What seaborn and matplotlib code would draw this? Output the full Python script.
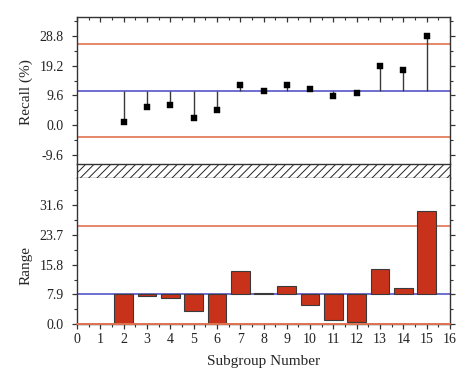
import numpy as np
import pandas as pd
import matplotlib
matplotlib.use("Agg")
import matplotlib.pyplot as plt
import seaborn as sns
from matplotlib.patches import Rectangle
from matplotlib.ticker import MultipleLocator, FixedLocator

# ---- data ----
subgroups = [2, 3, 4, 5, 6, 7, 8, 9, 10, 11, 12, 13, 14, 15]
recall = [1.0, 5.8, 6.5, 2.3, 4.9, 12.9, 11.0, 12.9, 11.6, 9.3, 10.5, 19.2, 17.8, 28.8]
ranges = [0.0, 7.6, 7.05, 3.6, 0.0, 14.2, 8.2, 10.1, 5.2, 1.1, 0.6, 14.6, 9.7, 29.9]
recall_cl, recall_ucl, recall_lcl = 11.0, 26.1, -3.9
range_cl, range_ucl, range_lcl = 7.9, 26.0, 0.0
recall_ticks = [-9.6, 0.0, 9.6, 19.2, 28.8]
range_ticks = [0.0, 7.9, 15.8, 23.7, 31.6]
x_ticks = list(range(0, 17))

sns.set_theme(style="white")
plt.rcParams['font.family'] = ['Liberation Serif', 'DejaVu Serif']
plt.rcParams['hatch.linewidth'] = 0.7

fig = plt.figure(figsize=(4.74, 3.91), dpi=100)
W, H = 474, 391
def frac(x0, y0, x1, y1):
    return [x0 / W, 1 - y1 / H, (x1 - x0) / W, (y1 - y0) / H]

ax1 = fig.add_axes(frac(77, 17, 450, 164))
axb = fig.add_axes(frac(77, 164, 450, 178))
ax2 = fig.add_axes(frac(77, 178, 450, 324.3))

orange = "#E0734F"
blue = "#5555C8"
red = "#C8321A"
spine_c = "#333333"

df1 = pd.DataFrame({"Subgroup": subgroups, "Recall": recall})
df2 = pd.DataFrame({"Subgroup": subgroups, "Range": ranges,
                    "Dev": [r - range_cl for r in ranges]})

# ---- upper panel ----
ax1.axhline(recall_ucl, color=orange, lw=1.2, zorder=1)
ax1.axhline(recall_lcl, color=orange, lw=1.2, zorder=1)
ax1.axhline(recall_cl, color=blue, lw=1.2, zorder=1)
ax1.vlines(df1["Subgroup"], recall_cl, df1["Recall"], color="#3a3a3a", lw=1.0, zorder=2)
sns.scatterplot(data=df1, x="Subgroup", y="Recall", marker="s", s=20,
                color="black", edgecolor="black", linewidth=0.3, ax=ax1, zorder=3)
ax1.set_xlim(0, 16)
ax1.set_ylim(-12.5, 34.9)
ax1.yaxis.set_major_locator(FixedLocator(recall_ticks))
ax1.yaxis.set_minor_locator(FixedLocator([-4.8, 4.8, 14.4, 24.0, 33.6]))
ax1.set_yticklabels([f"{t:.1f}" for t in recall_ticks])
ax1.set_ylabel("Recall (%)", fontsize=11)
ax1.set_xlabel("")
ax1.xaxis.set_major_locator(MultipleLocator(1))
ax1.xaxis.set_minor_locator(MultipleLocator(0.5))
ax1.tick_params(axis="x", which="both", bottom=False, labelbottom=False,
                top=True, direction="in")
ax1.spines["bottom"].set_visible(False)

# ---- band ----
axb.add_patch(Rectangle((0, 0), 1, 1, transform=axb.transAxes, facecolor="white",
                        edgecolor="#222222", hatch="////", lw=0))
axb.set_xticks([]); axb.set_yticks([])
for s in axb.spines.values():
    s.set_color(spine_c); s.set_linewidth(1.0)

# ---- lower panel ----
ax2.axhline(range_ucl, color=orange, lw=1.2, zorder=1)
ax2.axhline(range_cl, color=blue, lw=1.2, zorder=1)
sns.barplot(data=df2, x="Subgroup", y="Dev", native_scale=True, bottom=range_cl,
            width=0.8, color=red, saturation=1, edgecolor="#3a3a3a", linewidth=0.8,
            errorbar=None, ax=ax2, zorder=2)
ax2.axhline(range_lcl, color=orange, lw=1.4, zorder=4, clip_on=False)
ax2.set_xlim(0, 16)
ax2.set_ylim(0, 38.75)
ax2.yaxis.set_major_locator(FixedLocator(range_ticks))
ax2.yaxis.set_minor_locator(FixedLocator([3.95, 11.85, 19.75, 27.65, 35.55]))
ax2.set_yticklabels([f"{t:.1f}" for t in range_ticks])
ax2.xaxis.set_major_locator(FixedLocator(x_ticks))
ax2.xaxis.set_minor_locator(MultipleLocator(0.5))
ax2.set_xticklabels([str(t) for t in x_ticks])
ax2.set_ylabel("Range", fontsize=11)
ax2.set_xlabel("Subgroup Number", fontsize=11, labelpad=6)
ax2.spines["top"].set_visible(False)
ax2.tick_params(axis="x", which="both", bottom=True, top=False, direction="out")

for ax in (ax1, ax2):
    for s in ax.spines.values():
        s.set_color(spine_c); s.set_linewidth(1.0)
    ax.tick_params(axis="y", which="both", left=True, right=True, direction="out",
                   labelright=False)
    ax.tick_params(which="major", length=3.5, width=0.9, color=spine_c, labelsize=10)
    ax.tick_params(which="minor", length=2.2, width=0.8, color=spine_c)
    ax.tick_params(labelcolor="#222222")
    ax.tick_params(axis="y", which="major", pad=6)
    ax.tick_params(axis="x", which="major", pad=3)

ax1.yaxis.set_label_coords(-0.118, 0.49)
ax2.yaxis.set_label_coords(-0.118, 0.405)

fig.savefig("out.png", dpi=100)
